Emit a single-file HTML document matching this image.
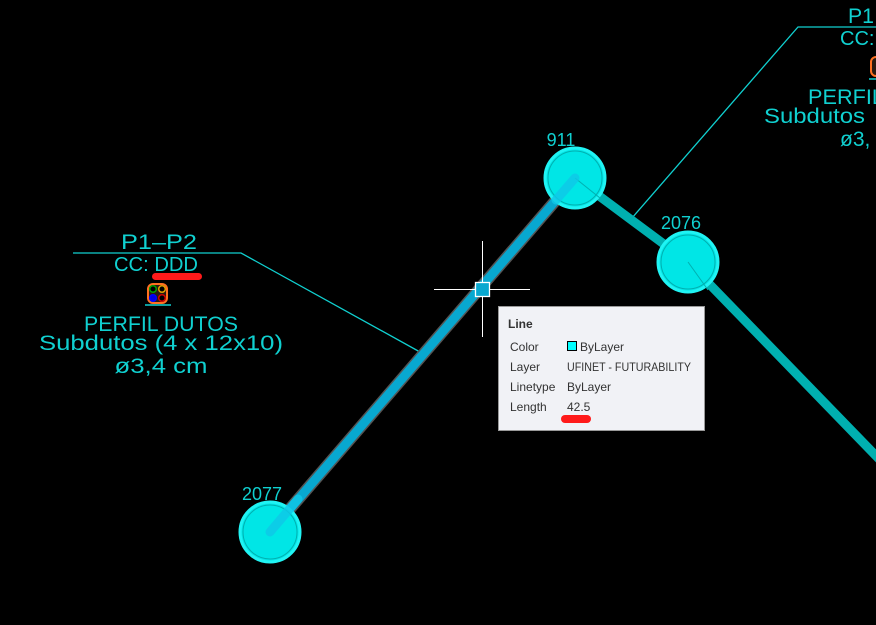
<!DOCTYPE html>
<html><head><meta charset="utf-8"><style>
html,body{margin:0;padding:0;background:#000;width:876px;height:625px;overflow:hidden}
svg{display:block}
.t{font-family:"Liberation Sans",sans-serif;fill:#10d0d0}
.tt{font-family:"Liberation Sans",sans-serif;font-size:12px;fill:#333}
</style></head><body>
<svg width="876" height="625" viewBox="0 0 876 625" xmlns="http://www.w3.org/2000/svg">
<rect width="876" height="625" fill="#000"/>
<polyline points="73,253 241,253 420,352" fill="none" stroke="#10d0d0" stroke-width="1.3"/>
<polyline points="632,218 798,27 876,27" fill="none" stroke="#10d0d0" stroke-width="1.3"/>
<polyline points="575,178 688,262 880,460" fill="none" stroke="#00b0b0" stroke-width="9"/>
<line x1="270" y1="532" x2="575" y2="178" stroke="#555" stroke-width="12" stroke-linecap="round"/>
<line x1="270" y1="532" x2="575" y2="178" stroke="#08a8d0" stroke-width="9" stroke-linecap="round"/>
<g fill="#00e6e6" stroke="#20f4f4" stroke-width="3">
<circle cx="575" cy="178" r="30"/>
<circle cx="688" cy="262" r="30"/>
<circle cx="270" cy="532" r="30"/>
</g>
<g fill="none" stroke="#00b0b0" stroke-width="1">
<circle cx="575" cy="178" r="27"/>
<circle cx="688" cy="262" r="27"/>
<circle cx="270" cy="532" r="27"/>
<line x1="575" y1="178" x2="600" y2="198"/>
<line x1="688" y1="262" x2="708" y2="290"/>
</g>
<line x1="270" y1="532" x2="298" y2="499" stroke="#10c8e8" stroke-width="9" stroke-linecap="round" opacity="0.8"/>
<line x1="556" y1="200" x2="575" y2="178" stroke="#10c8e8" stroke-width="9" stroke-linecap="round" opacity="0.8"/>
<text class="t" x="561" y="146" font-size="18" text-anchor="middle">911</text>
<text class="t" x="681" y="229" font-size="18" text-anchor="middle">2076</text>
<text class="t" x="262" y="500" font-size="18" text-anchor="middle">2077</text>
<text class="t" x="159" y="249" font-size="21" text-anchor="middle" textLength="76" lengthAdjust="spacingAndGlyphs">P1–P2</text>
<text class="t" x="114" y="271" font-size="20" textLength="84" lengthAdjust="spacingAndGlyphs">CC: DDD</text>
<rect x="152" y="273" width="50" height="7" rx="3.5" fill="#ff1a1a"/>
<rect x="148" y="284" width="19" height="19" rx="5" fill="#2a1a10" stroke="#ff7020" stroke-width="2"/>
<circle cx="153" cy="289" r="3.3" fill="#000" stroke="#00a000" stroke-width="1.5"/>
<circle cx="162" cy="289" r="3.3" fill="#000" stroke="#e0a000" stroke-width="1.5"/>
<circle cx="153" cy="298" r="3.3" fill="#0000e0" stroke="#0000ff" stroke-width="1.5"/>
<circle cx="162" cy="298" r="3.3" fill="#000" stroke="#d00000" stroke-width="1.5"/>
<line x1="145" y1="305" x2="171" y2="305" stroke="#10d0d0" stroke-width="1.5"/>
<text class="t" x="161" y="331" font-size="21" text-anchor="middle" textLength="154" lengthAdjust="spacingAndGlyphs">PERFIL DUTOS</text>
<text class="t" x="161" y="350" font-size="21" text-anchor="middle" textLength="244" lengthAdjust="spacingAndGlyphs">Subdutos (4 x 12x10)</text>
<text class="t" x="161" y="373" font-size="21" text-anchor="middle" textLength="93" lengthAdjust="spacingAndGlyphs">ø3,4 cm</text>
<text class="t" x="848" y="23" font-size="21" textLength="26" lengthAdjust="spacingAndGlyphs">P1</text>
<text class="t" x="840" y="45" font-size="20">CC:</text>
<rect x="871" y="57" width="12" height="19" rx="5" fill="#2a1a10" stroke="#ff7020" stroke-width="2"/>
<line x1="869" y1="79" x2="876" y2="79" stroke="#10d0d0" stroke-width="1.5"/>
<text class="t" x="808" y="104" font-size="21" textLength="76" lengthAdjust="spacingAndGlyphs">PERFIL</text>
<text class="t" x="764" y="123" font-size="21" textLength="101" lengthAdjust="spacingAndGlyphs">Subdutos</text>
<text class="t" x="840" y="146" font-size="21">ø3,</text>
<line x1="434" y1="289.5" x2="530" y2="289.5" stroke="#fff" stroke-width="1"/>
<line x1="482.5" y1="241" x2="482.5" y2="337" stroke="#fff" stroke-width="1"/>
<rect x="475.5" y="282.5" width="14" height="14" fill="#08a8d0" stroke="#fff" stroke-width="1.3"/>
<rect x="498.5" y="306.5" width="206" height="124" fill="#f1f2f6" stroke="#999" stroke-width="1"/>
<text class="tt" x="508" y="328" font-weight="bold" font-size="11">Line</text>
<text class="tt" x="510" y="351">Color</text>
<rect x="567.5" y="341.5" width="9" height="9" fill="#00ffff" stroke="#000"/>
<text class="tt" x="580" y="351">ByLayer</text>
<text class="tt" x="510" y="371">Layer</text>
<text class="tt" x="567" y="371" textLength="124" lengthAdjust="spacingAndGlyphs">UFINET - FUTURABILITY</text>
<text class="tt" x="510" y="391">Linetype</text>
<text class="tt" x="567" y="391">ByLayer</text>
<text class="tt" x="510" y="411">Length</text>
<text class="tt" x="567" y="411">42.5</text>
<rect x="561" y="415" width="30" height="8" rx="4" fill="#ff1a1a"/>
</svg>
</body></html>
